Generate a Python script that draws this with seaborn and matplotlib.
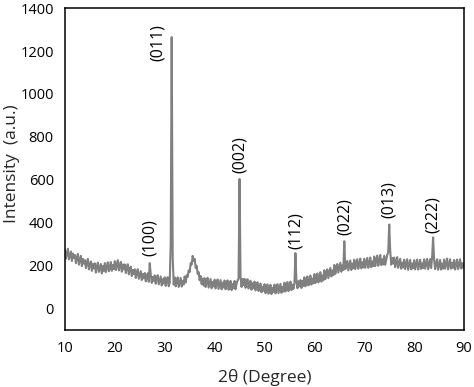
import numpy as np
import pandas as pd
import seaborn as sns
import matplotlib.pyplot as plt

# 2theta grid, 0.2 degree step from 10 to 90
two_theta = np.round(np.arange(10, 90.001, 0.2), 1)

# intensity, one row per 2 degrees
intensity = [
    274, 233, 258, 279, 230, 246, 266, 222, 257, 236,
    250, 212, 238, 255, 205, 226, 246, 198, 232, 210,
    226, 189, 214, 232, 183, 203, 220, 176, 208, 187,
    211, 168, 197, 214, 171, 186, 208, 164, 198, 176,
    212, 170, 196, 216, 174, 189, 217, 176, 203, 184,
    221, 180, 204, 226, 178, 196, 218, 172, 206, 183,
    206, 166, 192, 207, 160, 181, 196, 152, 180, 161,
    183, 143, 168, 184, 139, 157, 175, 133, 162, 141,
    166, 127, 150, 165, 125, 212, 160, 120, 148, 129,
    155, 116, 140, 156, 113, 131, 150, 108, 137, 117,
    146, 106, 129, 147, 104, 120, 300, 1265, 240, 112,
    145, 104, 128, 146, 101, 123, 143, 103, 130, 112,
    150, 122, 156, 148, 178, 170, 212, 205, 246, 222,
    232, 190, 200, 162, 170, 132, 152, 114, 140, 108,
    142, 101, 126, 144, 98, 118, 138, 95, 124, 104,
    135, 94, 118, 136, 92, 112, 133, 90, 120, 99,
    131, 90, 114, 132, 88, 107, 129, 86, 115, 95,
    129, 90, 116, 131, 140, 604, 150, 101, 138, 110,
    139, 97, 121, 137, 94, 115, 130, 88, 118, 96,
    126, 85, 108, 123, 82, 101, 117, 76, 102, 83,
    114, 72, 98, 113, 70, 92, 111, 68, 97, 78,
    112, 71, 96, 114, 72, 93, 115, 74, 101, 80,
    121, 80, 104, 124, 82, 102, 126, 86, 112, 92,
    118, 259, 130, 95, 128, 104, 133, 96, 130, 106,
    146, 104, 130, 150, 108, 128, 154, 112, 140, 118,
    161, 119, 146, 164, 122, 144, 170, 126, 155, 132,
    179, 138, 164, 183, 142, 165, 190, 150, 178, 156,
    204, 162, 189, 208, 168, 190, 214, 172, 201, 180,
    314, 184, 206, 222, 178, 201, 224, 180, 210, 188,
    228, 184, 208, 230, 186, 207, 233, 188, 216, 192,
    232, 190, 214, 236, 190, 212, 238, 193, 220, 198,
    243, 198, 224, 247, 200, 221, 250, 203, 230, 206,
    246, 204, 228, 250, 262, 392, 270, 205, 236, 210,
    238, 193, 218, 240, 190, 210, 232, 186, 214, 192,
    228, 184, 208, 230, 181, 204, 227, 183, 210, 188,
    226, 183, 207, 229, 182, 203, 228, 185, 211, 189,
    230, 186, 210, 232, 184, 206, 231, 189, 240, 332,
    228, 184, 209, 230, 181, 203, 227, 182, 210, 187,
    229, 186, 211, 233, 183, 205, 230, 186, 213, 190,
    227, 182, 207, 229, 184, 204, 230, 187, 212, 190,
    212,
]

# peak labels (hkl) and where they sit
peak_labels = ["(100)", "(011)", "(002)", "(112)", "(022)", "(013)", "(222)"]
label_x = [27.0, 28.6, 45.0, 56.2, 66.1, 75.0, 83.8]
label_y = [332, 1241, 716, 363, 431, 506, 440]

df = pd.DataFrame({"two_theta": two_theta, "intensity": intensity})

sns.set_style("white")
plt.rcParams["font.family"] = ["Open Sans", "DejaVu Sans"]

fig = plt.figure(figsize=(4.74, 3.87), dpi=100)
ax = fig.add_axes([0.137, 0.147, 0.842, 0.832])

sns.lineplot(data=df, x="two_theta", y="intensity", estimator=None,
             color="#808080", linewidth=1.5, ax=ax)

for lab, lx, ly in zip(peak_labels, label_x, label_y):
    ax.text(lx, ly, lab, rotation=90, ha="center", va="center",
            fontsize=11.5, color="black")

ax.set_xlim(10, 90)
ax.set_ylim(-100, 1400)
ax.set_xticks(range(10, 91, 10))
ax.set_yticks(range(0, 1401, 200))
ax.tick_params(length=0, labelsize=10.5, colors="black", pad=8)
ax.set_xlabel("2θ (Degree)", fontsize=12.5, labelpad=9)
ax.set_ylabel("Intensity  (a.u.)", fontsize=12.5)
ax.yaxis.set_label_coords(-0.112, 0.517)
for s in ax.spines.values():
    s.set_color("black")
    s.set_linewidth(1.1)

fig.savefig("out.png", dpi=100)
